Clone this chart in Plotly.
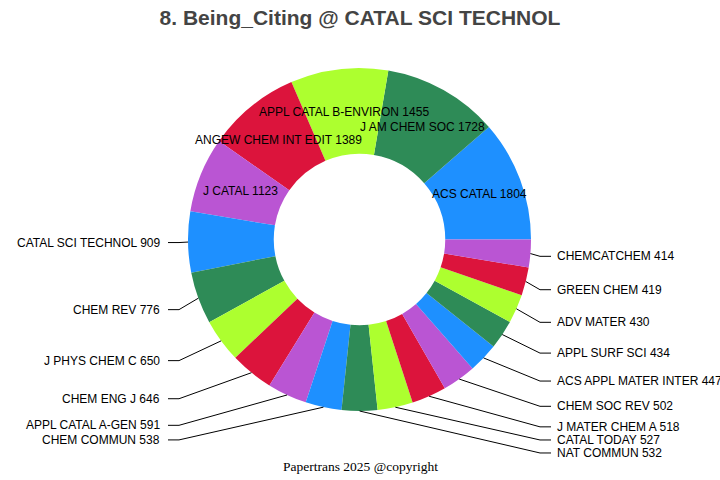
import math
import plotly.graph_objects as go

journals = ["ACS CATAL", "J AM CHEM SOC", "APPL CATAL B-ENVIRON", "ANGEW CHEM INT EDIT",
            "J CATAL", "CATAL SCI TECHNOL", "CHEM REV", "J PHYS CHEM C", "CHEM ENG J",
            "APPL CATAL A-GEN", "CHEM COMMUN", "NAT COMMUN", "CATAL TODAY", "J MATER CHEM A",
            "CHEM SOC REV", "ACS APPL MATER INTER", "APPL SURF SCI", "ADV MATER",
            "GREEN CHEM", "CHEMCATCHEM"]
counts = [1804, 1728, 1455, 1389, 1123, 909, 776, 650, 646, 591, 538, 532, 527, 518,
          502, 447, 434, 430, 419, 414]
palette = ["#1E90FF", "#2E8B57", "#ADFF2F", "#DC143C", "#BA55D3"]

W, H = 720, 480
CX, CY, R = 359.5, 239.5, 171.5      # donut geometry in pixels
HOLE = 0.5
R_IN_TEXT = 0.75 * R
R_LABEL = 205
KNEE_R, END_R, TXT_R = 540, 551, 555   # right side x positions
KNEE_L, END_L, TXT_L = 179, 168, 162   # left side x positions
MIN_GAP = 13
FONT = dict(family="Arial", size=12, color="black")

colors = [palette[i % len(palette)] for i in range(len(journals))]
texts = [f"{j} {c}" for j, c in zip(journals, counts)]
total = sum(counts)
first_angle = 360 * counts[0] / total


def px(x):
    return x / W


def py(y):
    return 1 - y / H


fig = go.Figure(go.Pie(
    labels=journals, values=counts, textinfo="none",
    hole=HOLE, sort=False, direction="counterclockwise", rotation=90 - first_angle,
    marker=dict(colors=colors), showlegend=False,
    domain=dict(x=[px(CX - R), px(CX + R)], y=[py(CY + R), py(CY - R)]),
))

annotations = []
shapes = []
outside = {"L": [], "R": []}
cum = 0.0
for i, (t, c) in enumerate(zip(texts, counts)):
    a = 360 * c / total
    mid = (90 - (cum + a / 2)) % 360
    cum += a
    th = math.radians(mid)
    s, co = math.sin(th), math.cos(th)
    if c > 1000:
        annotations.append(dict(text=t, x=px(CX + R_IN_TEXT * s), y=py(CY - R_IN_TEXT * co),
                                xref="paper", yref="paper", showarrow=False,
                                xanchor="center", yanchor="middle", font=FONT))
    else:
        side = "R" if s > 0 else "L"
        outside[side].append(dict(text=t, ex=CX + R * s, ey=CY - R * co,
                                  ly=CY - R_LABEL * co))

for side, items in outside.items():
    items.sort(key=lambda d: d["ly"])
    for k in range(1, len(items)):
        items[k]["ly"] = max(items[k]["ly"], items[k - 1]["ly"] + MIN_GAP)
    for d in items:
        if side == "R":
            knee, end, tx, anchor = KNEE_R, END_R, TXT_R, "left"
        else:
            knee, end, tx, anchor = KNEE_L, END_L, TXT_L, "right"
        shapes.append(dict(type="path", xref="paper", yref="paper",
                           path=f"M {px(d['ex'])},{py(d['ey'])} L {px(knee)},{py(d['ly'])} "
                                f"L {px(end)},{py(d['ly'])}",
                           line=dict(color="black", width=1)))
        annotations.append(dict(text=d["text"], x=px(tx), y=py(d["ly"]), xref="paper",
                                yref="paper", showarrow=False, xanchor=anchor,
                                yanchor="middle", font=FONT))

annotations.append(dict(text="Papertrans 2025 @copyright", x=0.5, y=py(466), xref="paper",
                        yref="paper", showarrow=False, xanchor="center", yanchor="middle",
                        font=dict(family="Times New Roman", size=13.5, color="black")))

fig.update_layout(
    width=W, height=H,
    title=dict(text="8. Being_Citing @ CATAL SCI TECHNOL", x=0.5, y=1 - 18 / H,
               xanchor="center", yanchor="middle",
               font=dict(family="Arial", size=21, color="#444444", weight="bold")),
    margin=dict(l=0, r=0, t=0, b=0),
    paper_bgcolor="white",
    annotations=annotations, shapes=shapes,
)
fig.write_html("out.html")
